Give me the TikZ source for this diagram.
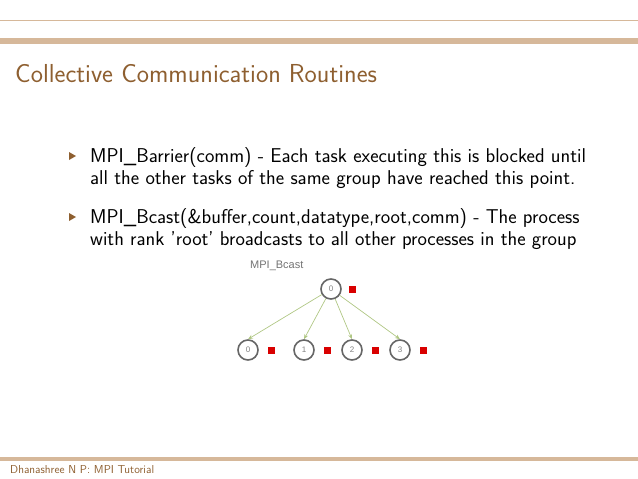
\documentclass[tikz,border=0pt]{standalone}
\usepackage{fontspec}
\newfontfamily\arialfont{Liberation Sans}
\usepackage{tikz}
\usetikzlibrary{arrows.meta}
\definecolor{beamtan}{HTML}{D6B89A}
\definecolor{beambrown}{HTML}{8E5F30}
\definecolor{arrgreen}{HTML}{B0C784}
\tikzset{
    proc/.style={circle, draw=gray!80!black, line width=1.6pt, minimum size=20pt, inner sep=0pt, font=\arialfont\fontsize{8}{8}\selectfont, text=gray},
    buf/.style={fill=red!85!black, minimum size=7pt, inner sep=0pt},
    bcast/.style={arrgreen, line width=0.7pt, -{Stealth[length=5pt, width=4pt]}},
    line/.style={anchor=base west, inner sep=0pt, font=\sffamily\fontsize{20}{22}\selectfont}
}
\begin{document}
\begin{tikzpicture}[x=1pt, y=-1pt]
            \def\cy{350}
            \useasboundingbox (0,0) rectangle (638,479);
            \draw[beamtan, line width=0.8pt] (0,20) -- (638,20);
            \fill[beamtan] (0,38) rectangle (638,44);
            \node[anchor=base west, inner sep=0pt, text=beambrown, font=\sffamily\fontsize{26}{28}\selectfont] (title) at (15,82) {Collective Communication Routines};

            % bullets
            \fill[beambrown] (69,152) -- (76,156) -- (69,160) -- cycle;
            \fill[beambrown] (69,213) -- (76,217) -- (69,221) -- cycle;
            \node[line] (barrier) at (90,162) {MPI\_Barrier(comm) - Each task executing this is blocked until};
            \node[line] (barrier2) at (90,184) {all the other tasks of the same group have reached this point.};
            \node[line] (bcasttxt) at (90,223) {MPI\_Bcast(\&buffer,count,datatype,root,comm) - The process};
            \node[line] (bcasttxt2) at (90,245) {with rank 'root' broadcasts to all other processes in the group};

            % diagram
            \node[anchor=base west, inner sep=0pt, text=gray!90!black, font=\arialfont\fontsize{11}{11}\selectfont] (lbl) at (250,268) {MPI\_Bcast};
            \node[proc] (root) at (331,289) {0};
            \node[buf] (rootbuf) at (352,289) {};
            \foreach \i/\x in {0/248, 1/304, 2/352, 3/400}{
                    \node[proc] (p\i) at (\x,\cy) {\i};
                    \node[buf] (b\i) at (\x+23,\cy) {};
                    \draw[bcast] (root) -- (p\i.north);
                }

            % footer
            \fill[beamtan] (0,457) rectangle (638,461);
            \node[anchor=base west, inner sep=0pt, text=beambrown, font=\sffamily\fontsize{11.5}{12}\selectfont] (foot) at (10,473) {Dhanashree N P: MPI Tutorial};
        \end{tikzpicture}
\end{document}
